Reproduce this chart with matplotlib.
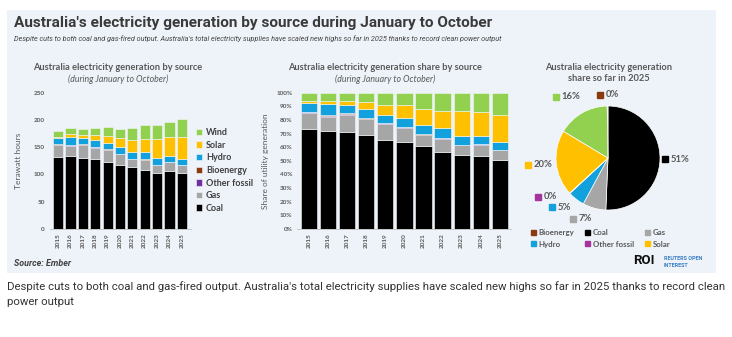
import numpy as np
import matplotlib
matplotlib.use('Agg')
from matplotlib import pyplot as plt
from matplotlib.patches import Rectangle

# data (TWh, January to October)
years = ['2015', '2016', '2017', '2018', '2019', '2020', '2021', '2022', '2023', '2024', '2025']
coal = [132, 133, 130, 128, 122, 117, 113, 108, 103, 106, 102]
gas = [22, 20, 24, 21, 23, 20, 15, 18.5, 14, 16, 14.5]
other_fossil = [0.5, 0.5, 0.5, 0.5, 0.5, 0.5, 0.4, 0.4, 0.3, 0.3, 0.3]
bioenergy = [1.0, 1.0, 1.0, 0.9, 0.9, 0.8, 0.7, 0.7, 0.6, 0.6, 0.5]
hydro = [11, 15, 11, 13, 11, 12, 13, 13, 13, 11, 10.5]
solar = [3, 5, 6, 9, 13, 17, 22, 25, 34, 35, 41]
wind = [11, 11, 11, 13, 17, 17, 22, 25, 26, 28, 32.5]

names = ['Coal', 'Gas', 'Other fossil', 'Bioenergy', 'Hydro', 'Solar', 'Wind']
colors = ['#000000', '#a6a6a6', '#7030a0', '#8b3a0f', '#12a1dc', '#ffc000', '#92d050']
series = [coal, gas, other_fossil, bioenergy, hydro, solar, wind]

# pie: 2025 values, clockwise from the top
pie_names = ['Coal', 'Gas', 'Hydro', 'Other fossil', 'Solar', 'Wind', 'Bioenergy']
pie_colors = ['#000000', '#a6a6a6', '#12a1dc', '#a6329e', '#ffc000', '#92d050', '#8b3a0f']
pie_vals = [coal[-1], gas[-1], hydro[-1], other_fossil[-1], solar[-1], wind[-1], bioenergy[-1]]

W, H = 732, 337
fig = plt.figure(figsize=(W / 100, H / 100), dpi=100)
fig.patch.set_facecolor('white')

def fx(px):
    return px / W

def fy(py):
    return 1 - py / H

panel_bg = '#eef3f9'
fig.patches.append(Rectangle((fx(7), fy(273)), fx(716) - fx(7), fy(10) - fy(273),
                             transform=fig.transFigure, facecolor=panel_bg,
                             edgecolor='none', zorder=-5))

narrow = ['Roboto', 'DejaVu Sans']
sans = ['Lato', 'DejaVu Sans']
gray = '#595959'

fig.text(fx(14), fy(22.5), "Australia's electricity generation by source during January to October",
         family=narrow, weight='bold', fontsize=11.1, color='#3a3a3a', va='center')
fig.text(fx(14), fy(39), "Despite cuts to both coal and gas-fired output. Australia's total electricity "
         "supplies have scaled new highs so far in 2025 thanks to record clean power output",
         family=narrow, style='italic', fontsize=5.2, color='#444444', va='center')

x = np.arange(len(years))

# left: stacked TWh
ax1 = fig.add_axes([fx(49.5), fy(229), fx(141), fy(92.7) - fy(229)])
bottom = np.zeros(len(years))
handles = []
for vals, c, n in zip(series, colors, names):
    h = ax1.bar(x, vals, 0.82, bottom=bottom, color=c, edgecolor='#f4f7fb', linewidth=0.4, label=n)
    handles.append(h)
    bottom += np.array(vals)
ax1.set_xlim(-0.7, 10.7)
ax1.set_ylim(0, 250)
ax1.set_yticks(range(0, 251, 50))
ax1.set_ylabel('Terawatt hours', fontsize=6, color=gray, family=sans, labelpad=8)
leg = ax1.legend(handles[::-1], names[::-1], loc='upper left', bbox_to_anchor=(1.0, 0.78),
                 frameon=False, fontsize=6.5, handlelength=0.7, handleheight=0.7,
                 handletextpad=0.4, labelspacing=0.4, borderaxespad=0.2)
for t in leg.get_texts():
    t.set_color('#404040')
    t.set_weight('bold')
    t.set_family(sans)

# middle: share
ax2 = fig.add_axes([fx(297.4), fy(229), fx(214), fy(92.7) - fy(229)])
total = np.sum(np.array(series), axis=0)
bottom = np.zeros(len(years))
for vals, c in zip(series, colors):
    share = np.array(vals) / total
    ax2.bar(x, share, 0.85, bottom=bottom, color=c, edgecolor='#f4f7fb', linewidth=0.4)
    bottom += share
ax2.set_xlim(-0.6, 10.6)
ax2.set_ylim(0, 1)
ax2.set_yticks(np.linspace(0, 1, 11))
ax2.set_yticklabels(['%d%%' % v for v in range(0, 101, 10)])
ax2.set_ylabel('Share of utility generation', fontsize=6, color=gray, family=sans, labelpad=5)

titles = [(ax1, 'Australia electricity generation by source', 118),
          (ax2, 'Australia electricity generation share by source', 385)]
for ax, ttl, cx in titles:
    fig.text(fx(cx), fy(67), ttl, ha='center', va='center', fontsize=6.7, color=gray,
             family=sans, weight='bold')
    fig.text(fx(cx), fy(79), '(during January to October)', ha='center', va='center',
             fontsize=6.3, color=gray, style='italic', family=sans)

for ax in (ax1, ax2):
    ax.set_facecolor(panel_bg)
    for s in ('top', 'right', 'left'):
        ax.spines[s].set_visible(False)
    ax.spines['bottom'].set_color('#bfbfbf')
    ax.spines['bottom'].set_linewidth(0.6)
    ax.set_xticks(x)
    ax.set_xticklabels(years, rotation=90)
    ax.tick_params(axis='both', length=0, labelsize=4.6, labelcolor=gray)
    ax.tick_params(axis='x', pad=3)
    for t in ax.get_xticklabels() + ax.get_yticklabels():
        t.set_weight('bold')
        t.set_family(sans)

# right: pie for 2025
R = 52
ax3 = fig.add_axes([fx(608 - 1.7 * R), fy(158 + 1.7 * R), fx(3.4 * R), fy(0) - fy(3.4 * R)])
ax3.set_facecolor('none')
wedges, _ = ax3.pie(pie_vals, colors=pie_colors, startangle=90, counterclock=False,
                    wedgeprops=dict(edgecolor='white', linewidth=0.5), radius=1)
ax3.set_xlim(-1.7, 1.7)
ax3.set_ylim(-1.7, 1.7)
ax3.set_aspect('equal')
pct = np.array(pie_vals) / np.sum(pie_vals) * 100
nudge = {'Other fossil': (-0.22, 0.08), 'Bioenergy': (0.08, 0.0), 'Gas': (-0.1, 0.1),
         'Hydro': (-0.05, 0.1), 'Wind': (-0.12, 0.03)}
for w, p, c, n in zip(wedges, pct, pie_colors, pie_names):
    ang = np.deg2rad((w.theta1 + w.theta2) / 2)
    r = 1.32 if p > 1 else 1.22
    cx, cy = r * np.cos(ang), r * np.sin(ang)
    dx, dy = nudge.get(n, (0, 0))
    cx += dx
    cy += dy
    lab = '%d%%' % round(p)
    ax3.plot(cx - 0.22, cy, 's', color=c, markersize=3.8)
    ax3.text(cx - 0.11, cy, lab, ha='left', va='center', fontsize=6.8, color=gray,
             weight='bold', family=sans)
fig.text(fx(609), fy(73), 'Australia electricity generation\nshare so far in 2025', ha='center',
         va='center', fontsize=6.7, color=gray, weight='bold', family=sans, linespacing=1.3)

leg_order = ['Bioenergy', 'Hydro', 'Coal', 'Other fossil', 'Gas', 'Solar']
leg_handles = [Rectangle((0, 0), 1, 1, color=pie_colors[pie_names.index(n)]) for n in leg_order]
leg3 = fig.legend(leg_handles, leg_order, ncol=3, loc='center left',
                  bbox_to_anchor=(fx(524), fy(238.5)), frameon=False, fontsize=5.7,
                  handlelength=0.6, handleheight=0.6, handletextpad=0.35, columnspacing=1.4,
                  labelspacing=0.55)
for t in leg3.get_texts():
    t.set_color(gray)
    t.set_weight('bold')
    t.set_family(sans)

fig.text(fx(14), fy(263), 'Source: Ember', family=narrow, style='italic', weight='bold',
         fontsize=6.4, color='#404040', va='center')
fig.text(fx(633), fy(261), 'ROI', family=['Roboto', 'DejaVu Sans'], weight='bold',
         fontsize=9.5, color='#111111', va='center')
fig.text(fx(664), fy(258), 'REUTERS OPEN', family=narrow, weight='bold', fontsize=3.9,
         color='#3b7fc4', va='center')
fig.text(fx(664), fy(265.5), 'INTEREST', family=narrow, weight='bold', fontsize=3.9,
         color='#3b7fc4', va='center')

cap_font = ['Roboto', 'DejaVu Sans']
fig.text(fx(7), fy(287), "Despite cuts to both coal and gas-fired output. Australia's total electricity "
         "supplies have scaled new highs so far in 2025 thanks to record clean",
         family=cap_font, fontsize=8.2, color='#333333', va='center')
fig.text(fx(7), fy(302), 'power output', family=cap_font, fontsize=8.2,
         color='#333333', va='center')

fig.savefig('out.png', dpi=100, facecolor='white')
